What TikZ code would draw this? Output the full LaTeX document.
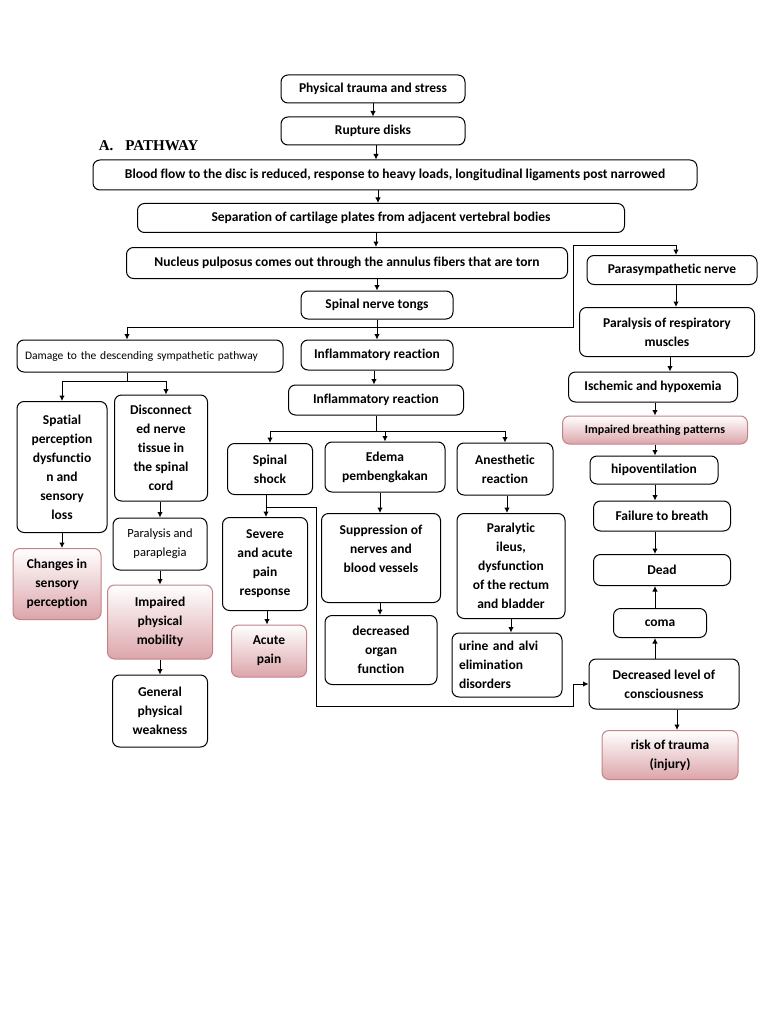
\documentclass[tikz,border=0pt]{standalone}
\usepackage{fontspec}
\setmainfont[Ligatures=NoCommon]{Carlito}
\newfontfamily\timesfont{Liberation Serif}
\usetikzlibrary{arrows.meta}
\definecolor{pinkfill}{RGB}{220,165,170}
\definecolor{pinkline}{RGB}{195,130,136}
\tikzset{
 box/.style={draw,rounded corners=7pt,align=center,inner sep=2pt,font=\fontsize{13.5}{19}\selectfont\bfseries},
 plainbox/.style={box,font=\fontsize{12.5}{19}\selectfont},
 care/.style={box,draw=pinkline,top color=white,bottom color=pinkfill},
}
\begin{document}
\begin{tikzpicture}[x=1pt,y=-1pt,>={Latex[length=5.5pt,width=5.5pt]},line width=1pt]
\useasboundingbox (0,0) rectangle (768,1024);
\node[anchor=west,font=\timesfont\bfseries\fontsize{15}{17}\selectfont] (title) at (95,146) {A.\hspace{12pt}PATHWAY};
\node[box,minimum width=184,minimum height=28] (phys) at (373,89) {Physical trauma and stress};
\node[box,minimum width=184,minimum height=28] (rup) at (373,131) {Rupture disks};
\node[box,minimum width=604,minimum height=30] (blood) at (395,175) {Blood flow to the disc is reduced, response to heavy loads, longitudinal ligaments post narrowed};
\node[box,minimum width=487,minimum height=29] (sep) at (381,218) {Separation of cartilage plates from adjacent vertebral bodies};
\node[box,minimum width=441,minimum height=31] (nucl) at (347,263) {Nucleus pulposus comes out through the annulus fibers that are torn};
\node[box,minimum width=152,minimum height=28] (tongs) at (377,305) {Spinal nerve tongs};
\node[box,minimum width=170,minimum height=29] (para) at (672,270) {Parasympathetic nerve};
\node[box,minimum width=175,minimum height=49] (resp) at (667,332) {Paralysis of respiratory\\muscles};
\node[plainbox,font=\fontsize{11.5}{19}\selectfont,text width=250,align=left,inner sep=8pt,minimum height=32] (damage) at (150,356) {Damage to the descending sympathetic pathway};
\node[box,minimum width=152,minimum height=30] (inf1) at (377,355) {Inflammatory reaction};
\node[box,minimum width=175,minimum height=30] (inf2) at (376,400) {Inflammatory reaction};
\node[box,minimum width=169,minimum height=30] (isch) at (653,387) {Ischemic and hypoxemia};
\node[care,font=\fontsize{12}{19}\selectfont\bfseries,minimum width=185,minimum height=28] (breath) at (655,430) {Impaired breathing patterns};
\node[box,minimum width=90,minimum height=131] (spatial) at (62,467) {Spatial\\perception\\dysfunctio\\n and\\sensory\\loss};
\node[box,minimum width=93,minimum height=106] (disc) at (161,448) {Disconnect\\ed nerve\\tissue in\\the spinal\\cord};
\node[box,minimum width=85,minimum height=51] (shock) at (270,469) {Spinal\\shock};
\node[box,minimum width=120,minimum height=50] (edema) at (385,467) {Edema\\pembengkakan};
\node[box,minimum width=96,minimum height=52] (anest) at (505,469) {Anesthetic\\reaction};
\node[box,minimum width=128,minimum height=28] (hipo) at (654,470) {hipoventilation};
\node[box,minimum width=137,minimum height=30] (fail) at (662,516) {Failure to breath};
\node[plainbox,minimum width=94,minimum height=52] (parap) at (160,544) {Paralysis and\\paraplegia};
\node[box,minimum width=85,minimum height=93] (severe) at (265,564) {Severe\\and acute\\pain\\response};
\node[box,minimum width=119,minimum height=89] (supp) at (381,558) {Suppression of\\nerves and\\blood vessels\\\mbox{}};
\node[box,minimum width=108,minimum height=105] (ileus) at (511,566) {Paralytic\\ileus,\\dysfunction\\of the rectum\\and bladder};
\node[box,minimum width=137,minimum height=31] (dead) at (662,570) {Dead};
\node[care,minimum width=88,minimum height=71] (chsens) at (57,584) {Changes in\\sensory\\perception};
\node[care,minimum width=105,minimum height=74] (mobil) at (160,622) {Impaired\\physical\\mobility};
\node[box,minimum width=93,minimum height=29] (coma) at (660,623) {coma};
\node[care,minimum width=75,minimum height=52] (acute) at (269,651) {Acute\\pain};
\node[box,minimum width=112,minimum height=69] (organ) at (381,650) {decreased\\organ\\function};
\node[box,align=left,text width=96,inner sep=7pt,minimum height=64] (urine) at (507,665) {urine and alvi\\elimination\\disorders};
\node[box,minimum width=150,minimum height=50] (decr) at (664,684) {Decreased level of\\consciousness};
\node[box,minimum width=95,minimum height=72] (weak) at (160,711) {General\\physical\\weakness};
\node[care,minimum width=136,minimum height=49] (risk) at (670,755) {risk of trauma\\(injury)};
\foreach \a/\b/\x in {phys/rup/373,rup/blood/376,blood/sep/378,sep/nucl/376,nucl/tongs/377,tongs/inf1/377,inf1/inf2/374,
 para/resp/676,resp/isch/670,isch/breath/655,breath/hipo/655,hipo/fail/655,fail/dead/655,decr/risk/677,
 spatial/chsens/62,disc/parap/160,parap/mobil/160,mobil/weak/160,shock/severe/266,severe/acute/267,
 edema/supp/380,supp/organ/380,anest/ileus/507,ileus/urine/511}
 \draw[->] (\a.south -| \x,0) -- (\b.north -| \x,0);
\foreach \a/\b in {decr/coma,coma/dead}
 \draw[->] (\a.north -| 655,0) -- (\b.south -| 655,0);
\coordinate (jt) at (377,327);
\draw[->] (jt) -| ([xshift=-23pt]damage.north);
\draw[->] (jt) -| (573,245) -| ([xshift=4pt]para.north);
\coordinate (jd) at (127,381);
\draw ([xshift=-23pt]damage.south) -- (jd);
\draw[->] (jd) -| (spatial.north);
\draw[->] (jd) -| ([xshift=5pt]disc.north);
\coordinate (ji) at (376,431);
\draw (inf2.south) -- (ji);
\foreach \n in {shock,edema,anest} \draw[->] (ji) -| (\n.north);
\coordinate (js) at (266,507);
\draw[->] (js) -| (316,706) -| (573,684) -- (decr.west);
\end{tikzpicture}
\end{document}
